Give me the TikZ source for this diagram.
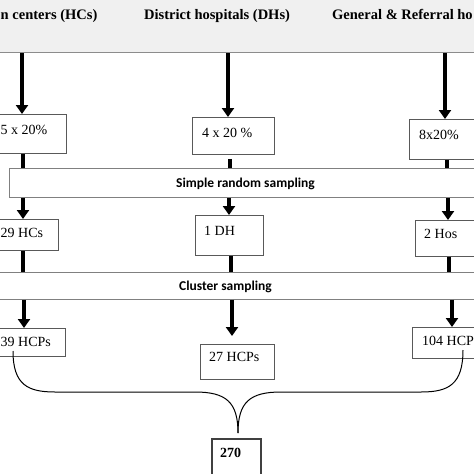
\documentclass[tikz,border=0pt]{standalone}
\usepackage{fontspec}
\setmainfont{Liberation Serif}
\newfontfamily\bandfont{Carlito}
\usetikzlibrary{arrows.meta}
\begin{document}
\begin{tikzpicture}[x=1pt,y=-1pt,
  box/.style={draw=black!65, line width=0.9pt, fill=white, inner sep=0pt, anchor=north west},
  band/.style={draw=black!50, line width=0.9pt, fill=white, inner sep=0pt, anchor=north west},
  txt/.style={anchor=base west, inner sep=0pt, font=\fontsize{14}{16}\selectfont},
  hdrtxt/.style={anchor=base west, inner sep=0pt, font=\fontsize{14.5}{17}\selectfont\bfseries},
  bandtxt/.style={anchor=base west, inner sep=0pt, font=\bandfont\fontsize{13.5}{16}\selectfont\bfseries},
  arr/.style={line width=3.2pt, -{Triangle[width=12pt,length=9pt]}},
  stem/.style={line width=3.2pt},
  brace/.style={line width=1pt}]
\useasboundingbox (0,0) rectangle (474,474);
% header band
\node[draw=black!45, line width=1pt, fill=black!6, inner sep=0pt, anchor=north west,
      minimum width=484pt, minimum height=57pt] (hdr) at (-5,-5) {};
\node[hdrtxt] (h1) at (0.5,19) {n centers (HCs)};
\node[hdrtxt] (h2) at (144,19) {District hospitals (DHs)};
\node[hdrtxt] (h3) at (332,19) {General \& Referral ho};
% row 1
\node[box, minimum width=68pt, minimum height=39pt] (b1) at (-2,114) {};
\node[box, minimum width=82pt, minimum height=37pt] (b2) at (192,117) {};
\node[box, minimum width=70pt, minimum height=40pt] (b3) at (409,119) {};
\node[txt] (b1t) at (0.5,134.5) {5 x 20\%};
\node[txt] (b2t) at (202,137) {4 x 20 \%};
\node[txt] (b3t) at (419,139) {8x20\%};
% simple random sampling band
\node[band, minimum width=475pt, minimum height=29pt] (srs) at (9,168) {};
\node[bandtxt] (srst) at (176,187) {Simple random sampling};
% row 2
\node[box, minimum width=60pt, minimum height=31pt] (c1) at (-2,219) {};
\node[box, minimum width=68pt, minimum height=40pt] (c2) at (195,215) {};
\node[box, minimum width=64pt, minimum height=36pt] (c3) at (415,220) {};
\node[txt] (c1t) at (0.5,237) {29 HCs};
\node[txt] (c2t) at (204,235) {1 DH};
\node[txt] (c3t) at (424,238) {2 Hos};
% cluster sampling band
\node[band, minimum width=490pt, minimum height=27pt] (cs) at (-8,272) {};
\node[bandtxt] (cst) at (179,290) {Cluster sampling};
% row 3
\node[box, minimum width=67pt, minimum height=28pt] (d1) at (-2,328) {};
\node[box, minimum width=74pt, minimum height=35pt] (d2) at (200,344) {};
\node[box, minimum width=66pt, minimum height=31pt] (d3) at (412,327) {};
\node[txt] (d1t) at (0.5,346) {39 HCPs};
\node[txt] (d2t) at (209,361.5) {27 HCPs};
\node[txt] (d3t) at (422,345) {104 HCP};
% total
\node[draw=black!75, line width=1.5pt, fill=white, inner sep=0pt, anchor=north west,
      minimum width=49pt, minimum height=45pt] (tot) at (211,438) {};
\node[anchor=base west, inner sep=0pt, font=\fontsize{14}{16}\selectfont\bfseries] (tott) at (220,457) {270};
% column x positions
\coordinate (xa1) at (22,0);  \coordinate (xa2) at (228,0); \coordinate (xa3) at (445,0);
\coordinate (xs1) at (23,0);  \coordinate (xs2) at (230,0); \coordinate (xs3) at (447,0);
\coordinate (xb1) at (23,0);  \coordinate (xb2) at (229,0); \coordinate (xb3) at (448,0);
\coordinate (xt1) at (23,0);  \coordinate (xt2) at (231,0); \coordinate (xt3) at (449,0);
\coordinate (xc1) at (24,0);  \coordinate (xc2) at (232,0); \coordinate (xc3) at (452,0);
% header -> row 1
\draw[arr] (hdr.south -| xa1) -- (b1.north -| xa1);
\draw[arr] (hdr.south -| xa2) -- (b2.north -| xa2);
\draw[arr] (hdr.south -| xa3) -- (b3.north -| xa3);
% row 1 -> band
\draw[stem] (b1.south -| xs1) -- (srs.north -| xs1);
\draw[stem] ([yshift=-4pt]b2.south -| xs2) -- (srs.north -| xs2);
\draw[stem] (b3.south -| xs3) -- (srs.north -| xs3);
% band -> row 2
\draw[arr] (srs.south -| xb1) -- (c1.north -| xb1);
\draw[arr] (srs.south -| xb2) -- (c2.north -| xb2);
\draw[arr] (srs.south -| xb3) -- (c3.north -| xb3);
% row 2 -> cluster band
\draw[stem] (c1.south -| xt1) -- (cs.north -| xt1);
\draw[stem] (c2.south -| xt2) -- (cs.north -| xt2);
\draw[stem] (c3.south -| xt3) -- (cs.north -| xt3);
% cluster band -> row 3
\draw[arr] (cs.south -| xc1) -- (d1.north -| xc1);
\draw[arr, shorten >=8pt] (cs.south -| xc2) -- (d2.north -| xc2);
\draw[arr] (cs.south -| xc3) -- (d3.north -| xc3);
% braces to total
\coordinate (l0) at (13,351);
\coordinate (r0) at (463,350);
\coordinate (m0) at (238,433);
\draw[brace] (l0) .. controls (13,385) and (28,392) .. (55,392) -- (195,392)
  .. controls (226,392) and (238,402) .. (m0);
\draw[brace] (r0) .. controls (463,385) and (448,392) .. (421,392) -- (281,392)
  .. controls (250,392) and (238,402) .. (m0);
\end{tikzpicture}
\end{document}
